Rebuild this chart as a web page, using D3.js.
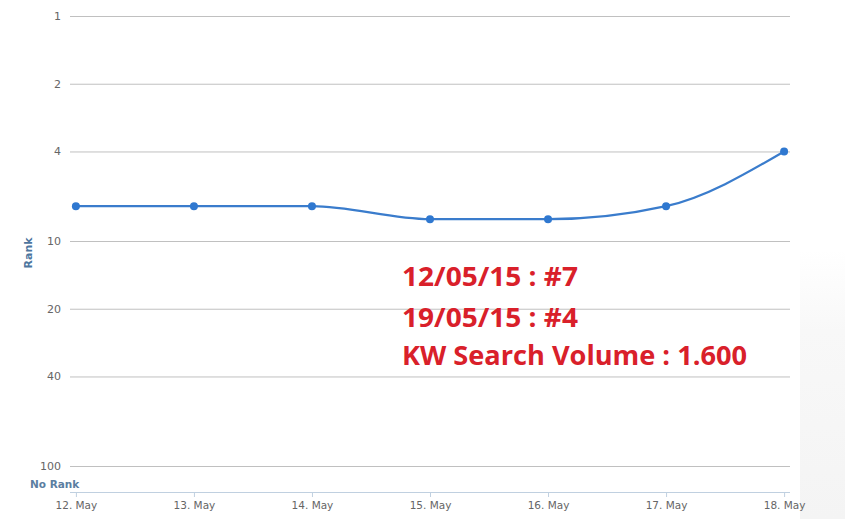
<!DOCTYPE html>
<html>
<head>
<meta charset="utf-8">
<script src="https://cdn.jsdelivr.net/npm/d3@7"></script>
<style>
  html, body { margin: 0; padding: 0; background: #fff; }
  svg { display: block; }
</style>
</head>
<body>
<svg id="chart" width="845" height="519"></svg>
<script>
// ---- data ----
const categories = ["12. May", "13. May", "14. May", "15. May", "16. May", "17. May", "18. May"];
const rankValues = [7, 7, 7, 8, 8, 7, 4];
const yTickValues = [1, 2, 4, 10, 20, 40, 100];
const noRankLabel = "No Rank";
const noRankValue = 120;
const annotationLines = ["12/05/15 : #7", "19/05/15 : #4", "KW Search Volume : 1.600"];
const axisTitle = "Rank";

// ---- layout ----
const W = 845, H = 519;
const plotLeft = 70, plotRight = 790, plotTop = 16, plotBottom = 492;
const svg = d3.select("#chart");

// faint grey backdrop at bottom-right
const defs = svg.append("defs");
const grad = defs.append("linearGradient").attr("id", "bg").attr("x1", 0).attr("y1", 0).attr("x2", 0).attr("y2", 1);
grad.append("stop").attr("offset", "0%").attr("stop-color", "#ffffff");
grad.append("stop").attr("offset", "30%").attr("stop-color", "#f8f8f8");
grad.append("stop").attr("offset", "100%").attr("stop-color", "#f4f4f4");
svg.append("rect").attr("x", 800).attr("y", 250).attr("width", W - 800).attr("height", H - 250).attr("fill", "url(#bg)");

const x = d3.scalePoint().domain(categories).range([plotLeft, plotRight]).padding(0.05);
const y = d3.scaleLog().domain([1, 100]).range([16, 466]);

// grid lines + y labels
const yAxis = d3.axisLeft(y).tickValues(yTickValues).tickFormat(d3.format("d"))
  .tickSize(-(plotRight - plotLeft)).tickPadding(10);
const gy = svg.append("g").attr("transform", `translate(${plotLeft},0)`).call(yAxis);
gy.select(".domain").remove();
gy.selectAll(".tick line").attr("stroke", "#c0c0c0").attr("stroke-width", 1);
gy.selectAll(".tick text").attr("fill", "#666").attr("font-family", "DejaVu Sans, Verdana, sans-serif")
  .attr("font-size", "11px").attr("x", -9);

// No Rank label
svg.append("text").attr("x", plotLeft - 40).attr("y", y(noRankValue) + 4)
  .attr("fill", "#5b7ea1").attr("font-family", "DejaVu Sans, Verdana, sans-serif")
  .attr("font-size", "10.5px").attr("font-weight", "bold").text(noRankLabel);

// x axis
const xAxis = d3.axisBottom(x).tickSize(5).tickPadding(5);
const gx = svg.append("g").attr("transform", `translate(0,${plotBottom})`).call(xAxis);
gx.select(".domain").attr("d", `M${plotLeft},0.5H${plotRight}`).attr("stroke", "#c0d0e0");
gx.selectAll(".tick line").attr("stroke", "#c0d0e0");
gx.selectAll(".tick text").attr("fill", "#666").attr("font-family", "DejaVu Sans, Verdana, sans-serif")
  .attr("font-size", "10.5px");

// axis title
svg.append("text").attr("transform", `translate(32,253) rotate(-90)`).attr("text-anchor", "middle")
  .attr("fill", "#4d759e").attr("font-family", "DejaVu Sans, Verdana, sans-serif")
  .attr("font-size", "11px").attr("font-weight", "bold").text(axisTitle);

// series
const pts = categories.map((c, i) => [x(c), y(rankValues[i])]);
svg.append("path").datum(pts)
  .attr("d", d3.line().curve(d3.curveMonotoneX))
  .attr("fill", "none").attr("stroke", "#3a7ccc").attr("stroke-width", 2.2);
svg.selectAll("circle.pt").data(pts).enter().append("circle").attr("class", "pt")
  .attr("cx", d => d[0]).attr("cy", d => d[1]).attr("r", 4).attr("fill", "#2f78d0");

// annotation
const ann = svg.append("g");
const annBase = [286, 327, 365];
const annWidth = [176, 176, 345];
annotationLines.forEach((t, i) => {
  ann.append("text").attr("x", 402).attr("y", annBase[i])
    .attr("fill", "#d9202a").attr("font-family", "Open Sans, sans-serif")
    .attr("font-weight", "bold").attr("font-size", "26px")
    .attr("textLength", annWidth[i]).attr("lengthAdjust", "spacingAndGlyphs")
    .text(t);
});
</script>
</body>
</html>
